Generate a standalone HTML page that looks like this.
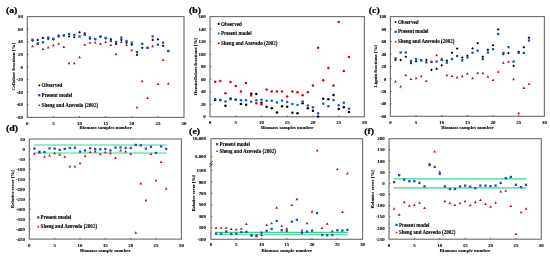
<!DOCTYPE html>
<html><head><meta charset="utf-8"><title>Figure</title>
<style>
html,body{margin:0;padding:0;background:#fff;}
body{width:550px;height:256px;overflow:hidden;}
svg{display:block;font-family:'Liberation Serif', 'Times New Roman', serif;filter:blur(0.25px);}
text{stroke:#000;stroke-width:0.9px;}
.pl{stroke-width:2.2px;}
</style></head><body>
<svg width="550" height="256" viewBox="0 0 550 256">
<rect width="550" height="256" fill="#fff"/>
<text class="pl" transform="translate(5.90 12.60) scale(0.116 0.1)" font-size="85.0" text-anchor="start" font-weight="bold" fill="#000">(a)</text>
<text class="pl" transform="translate(188.90 12.60) scale(0.116 0.1)" font-size="85.0" text-anchor="start" font-weight="bold" fill="#000">(b)</text>
<text class="pl" transform="translate(368.80 12.60) scale(0.116 0.1)" font-size="85.0" text-anchor="start" font-weight="bold" fill="#000">(c)</text>
<text class="pl" transform="translate(5.90 130.80) scale(0.116 0.1)" font-size="85.0" text-anchor="start" font-weight="bold" fill="#000">(d)</text>
<text class="pl" transform="translate(189.10 133.70) scale(0.116 0.1)" font-size="85.0" text-anchor="start" font-weight="bold" fill="#000">(e)</text>
<text class="pl" transform="translate(364.30 134.20) scale(0.116 0.1)" font-size="85.0" text-anchor="start" font-weight="bold" fill="#000">(f)</text>
<rect x="27.30" y="16.60" width="156.70" height="100.80" fill="none" stroke="#707070" stroke-width="1.15"/>
<rect x="210.00" y="16.60" width="154.40" height="100.20" fill="none" stroke="#707070" stroke-width="1.15"/>
<rect x="390.40" y="16.60" width="154.00" height="99.70" fill="none" stroke="#707070" stroke-width="1.15"/>
<rect x="29.30" y="139.00" width="152.10" height="100.10" fill="none" stroke="#707070" stroke-width="1.15"/>
<rect x="389.00" y="138.70" width="152.30" height="100.50" fill="none" stroke="#707070" stroke-width="1.15"/>
<rect x="211.00" y="138.70" width="151.60" height="100.60" fill="none" stroke="#707070" stroke-width="1.15"/>
<text transform="translate(27.30 124.92) scale(0.1)" font-size="49.0" text-anchor="middle" font-weight="bold" fill="#000">0</text>
<line x1="53.42" y1="117.40" x2="53.42" y2="116.10" stroke="#444" stroke-width="0.8"/>
<text transform="translate(53.42 124.92) scale(0.1)" font-size="49.0" text-anchor="middle" font-weight="bold" fill="#000">5</text>
<line x1="79.53" y1="117.40" x2="79.53" y2="116.10" stroke="#444" stroke-width="0.8"/>
<text transform="translate(79.53 124.92) scale(0.1)" font-size="49.0" text-anchor="middle" font-weight="bold" fill="#000">10</text>
<line x1="105.65" y1="117.40" x2="105.65" y2="116.10" stroke="#444" stroke-width="0.8"/>
<text transform="translate(105.65 124.92) scale(0.1)" font-size="49.0" text-anchor="middle" font-weight="bold" fill="#000">15</text>
<line x1="131.77" y1="117.40" x2="131.77" y2="116.10" stroke="#444" stroke-width="0.8"/>
<text transform="translate(131.77 124.92) scale(0.1)" font-size="49.0" text-anchor="middle" font-weight="bold" fill="#000">20</text>
<line x1="157.88" y1="117.40" x2="157.88" y2="116.10" stroke="#444" stroke-width="0.8"/>
<text transform="translate(157.88 124.92) scale(0.1)" font-size="49.0" text-anchor="middle" font-weight="bold" fill="#000">25</text>
<text transform="translate(184.00 124.92) scale(0.1)" font-size="49.0" text-anchor="middle" font-weight="bold" fill="#000">30</text>
<text transform="translate(105.65 129.06) scale(0.1)" font-size="48.5" text-anchor="middle" font-weight="bold" fill="#000">Biomass samples number</text>
<text transform="translate(210.00 124.32) scale(0.1)" font-size="49.0" text-anchor="middle" font-weight="bold" fill="#000">0</text>
<line x1="235.73" y1="116.80" x2="235.73" y2="115.50" stroke="#444" stroke-width="0.8"/>
<text transform="translate(235.73 124.32) scale(0.1)" font-size="49.0" text-anchor="middle" font-weight="bold" fill="#000">5</text>
<line x1="261.47" y1="116.80" x2="261.47" y2="115.50" stroke="#444" stroke-width="0.8"/>
<text transform="translate(261.47 124.32) scale(0.1)" font-size="49.0" text-anchor="middle" font-weight="bold" fill="#000">10</text>
<line x1="287.20" y1="116.80" x2="287.20" y2="115.50" stroke="#444" stroke-width="0.8"/>
<text transform="translate(287.20 124.32) scale(0.1)" font-size="49.0" text-anchor="middle" font-weight="bold" fill="#000">15</text>
<line x1="312.93" y1="116.80" x2="312.93" y2="115.50" stroke="#444" stroke-width="0.8"/>
<text transform="translate(312.93 124.32) scale(0.1)" font-size="49.0" text-anchor="middle" font-weight="bold" fill="#000">20</text>
<line x1="338.67" y1="116.80" x2="338.67" y2="115.50" stroke="#444" stroke-width="0.8"/>
<text transform="translate(338.67 124.32) scale(0.1)" font-size="49.0" text-anchor="middle" font-weight="bold" fill="#000">25</text>
<text transform="translate(364.40 124.32) scale(0.1)" font-size="49.0" text-anchor="middle" font-weight="bold" fill="#000">30</text>
<text transform="translate(287.20 128.75) scale(0.1)" font-size="48.5" text-anchor="middle" font-weight="bold" fill="#000">Biomass samples number</text>
<text transform="translate(390.40 124.12) scale(0.1)" font-size="49.0" text-anchor="middle" font-weight="bold" fill="#000">0</text>
<line x1="416.07" y1="116.30" x2="416.07" y2="115.00" stroke="#444" stroke-width="0.8"/>
<text transform="translate(416.07 124.12) scale(0.1)" font-size="49.0" text-anchor="middle" font-weight="bold" fill="#000">5</text>
<line x1="441.73" y1="116.30" x2="441.73" y2="115.00" stroke="#444" stroke-width="0.8"/>
<text transform="translate(441.73 124.12) scale(0.1)" font-size="49.0" text-anchor="middle" font-weight="bold" fill="#000">10</text>
<line x1="467.40" y1="116.30" x2="467.40" y2="115.00" stroke="#444" stroke-width="0.8"/>
<text transform="translate(467.40 124.12) scale(0.1)" font-size="49.0" text-anchor="middle" font-weight="bold" fill="#000">15</text>
<line x1="493.07" y1="116.30" x2="493.07" y2="115.00" stroke="#444" stroke-width="0.8"/>
<text transform="translate(493.07 124.12) scale(0.1)" font-size="49.0" text-anchor="middle" font-weight="bold" fill="#000">20</text>
<line x1="518.73" y1="116.30" x2="518.73" y2="115.00" stroke="#444" stroke-width="0.8"/>
<text transform="translate(518.73 124.12) scale(0.1)" font-size="49.0" text-anchor="middle" font-weight="bold" fill="#000">25</text>
<text transform="translate(544.40 124.12) scale(0.1)" font-size="49.0" text-anchor="middle" font-weight="bold" fill="#000">30</text>
<text transform="translate(467.40 128.75) scale(0.1)" font-size="48.5" text-anchor="middle" font-weight="bold" fill="#000">Biomass samples number</text>
<text transform="translate(29.30 246.72) scale(0.1)" font-size="49.0" text-anchor="middle" font-weight="bold" fill="#000">0</text>
<line x1="54.65" y1="239.10" x2="54.65" y2="237.80" stroke="#444" stroke-width="0.8"/>
<text transform="translate(54.65 246.72) scale(0.1)" font-size="49.0" text-anchor="middle" font-weight="bold" fill="#000">5</text>
<line x1="80.00" y1="239.10" x2="80.00" y2="237.80" stroke="#444" stroke-width="0.8"/>
<text transform="translate(80.00 246.72) scale(0.1)" font-size="49.0" text-anchor="middle" font-weight="bold" fill="#000">10</text>
<line x1="105.35" y1="239.10" x2="105.35" y2="237.80" stroke="#444" stroke-width="0.8"/>
<text transform="translate(105.35 246.72) scale(0.1)" font-size="49.0" text-anchor="middle" font-weight="bold" fill="#000">15</text>
<line x1="130.70" y1="239.10" x2="130.70" y2="237.80" stroke="#444" stroke-width="0.8"/>
<text transform="translate(130.70 246.72) scale(0.1)" font-size="49.0" text-anchor="middle" font-weight="bold" fill="#000">20</text>
<line x1="156.05" y1="239.10" x2="156.05" y2="237.80" stroke="#444" stroke-width="0.8"/>
<text transform="translate(156.05 246.72) scale(0.1)" font-size="49.0" text-anchor="middle" font-weight="bold" fill="#000">25</text>
<text transform="translate(181.40 246.72) scale(0.1)" font-size="49.0" text-anchor="middle" font-weight="bold" fill="#000">30</text>
<text transform="translate(105.35 251.86) scale(0.1)" font-size="48.5" text-anchor="middle" font-weight="bold" fill="#000">Biomass sample number</text>
<text transform="translate(211.00 246.22) scale(0.1)" font-size="49.0" text-anchor="middle" font-weight="bold" fill="#000">0</text>
<line x1="236.27" y1="239.30" x2="236.27" y2="238.00" stroke="#444" stroke-width="0.8"/>
<text transform="translate(236.27 246.22) scale(0.1)" font-size="49.0" text-anchor="middle" font-weight="bold" fill="#000">5</text>
<line x1="261.53" y1="239.30" x2="261.53" y2="238.00" stroke="#444" stroke-width="0.8"/>
<text transform="translate(261.53 246.22) scale(0.1)" font-size="49.0" text-anchor="middle" font-weight="bold" fill="#000">10</text>
<line x1="286.80" y1="239.30" x2="286.80" y2="238.00" stroke="#444" stroke-width="0.8"/>
<text transform="translate(286.80 246.22) scale(0.1)" font-size="49.0" text-anchor="middle" font-weight="bold" fill="#000">15</text>
<line x1="312.07" y1="239.30" x2="312.07" y2="238.00" stroke="#444" stroke-width="0.8"/>
<text transform="translate(312.07 246.22) scale(0.1)" font-size="49.0" text-anchor="middle" font-weight="bold" fill="#000">20</text>
<line x1="337.33" y1="239.30" x2="337.33" y2="238.00" stroke="#444" stroke-width="0.8"/>
<text transform="translate(337.33 246.22) scale(0.1)" font-size="49.0" text-anchor="middle" font-weight="bold" fill="#000">25</text>
<text transform="translate(362.60 246.22) scale(0.1)" font-size="49.0" text-anchor="middle" font-weight="bold" fill="#000">30</text>
<text transform="translate(286.80 251.86) scale(0.1)" font-size="48.5" text-anchor="middle" font-weight="bold" fill="#000">Biomass sample number</text>
<text transform="translate(389.00 246.62) scale(0.1)" font-size="49.0" text-anchor="middle" font-weight="bold" fill="#000">0</text>
<line x1="414.38" y1="239.20" x2="414.38" y2="237.90" stroke="#444" stroke-width="0.8"/>
<text transform="translate(414.38 246.62) scale(0.1)" font-size="49.0" text-anchor="middle" font-weight="bold" fill="#000">5</text>
<line x1="439.77" y1="239.20" x2="439.77" y2="237.90" stroke="#444" stroke-width="0.8"/>
<text transform="translate(439.77 246.62) scale(0.1)" font-size="49.0" text-anchor="middle" font-weight="bold" fill="#000">10</text>
<line x1="465.15" y1="239.20" x2="465.15" y2="237.90" stroke="#444" stroke-width="0.8"/>
<text transform="translate(465.15 246.62) scale(0.1)" font-size="49.0" text-anchor="middle" font-weight="bold" fill="#000">15</text>
<line x1="490.53" y1="239.20" x2="490.53" y2="237.90" stroke="#444" stroke-width="0.8"/>
<text transform="translate(490.53 246.62) scale(0.1)" font-size="49.0" text-anchor="middle" font-weight="bold" fill="#000">20</text>
<line x1="515.92" y1="239.20" x2="515.92" y2="237.90" stroke="#444" stroke-width="0.8"/>
<text transform="translate(515.92 246.62) scale(0.1)" font-size="49.0" text-anchor="middle" font-weight="bold" fill="#000">25</text>
<text transform="translate(541.30 246.62) scale(0.1)" font-size="49.0" text-anchor="middle" font-weight="bold" fill="#000">30</text>
<text transform="translate(465.15 251.76) scale(0.1)" font-size="48.5" text-anchor="middle" font-weight="bold" fill="#000">Biomass sample number</text>
<text transform="translate(23.00 18.22) scale(0.1)" font-size="49.0" text-anchor="end" font-weight="bold" fill="#000">80</text>
<line x1="27.30" y1="29.20" x2="28.60" y2="29.20" stroke="#444" stroke-width="0.8"/>
<text transform="translate(23.00 30.82) scale(0.1)" font-size="49.0" text-anchor="end" font-weight="bold" fill="#000">60</text>
<line x1="27.30" y1="41.80" x2="28.60" y2="41.80" stroke="#444" stroke-width="0.8"/>
<text transform="translate(23.00 43.42) scale(0.1)" font-size="49.0" text-anchor="end" font-weight="bold" fill="#000">40</text>
<line x1="27.30" y1="54.40" x2="28.60" y2="54.40" stroke="#444" stroke-width="0.8"/>
<text transform="translate(23.00 56.02) scale(0.1)" font-size="49.0" text-anchor="end" font-weight="bold" fill="#000">20</text>
<line x1="27.30" y1="67.00" x2="28.60" y2="67.00" stroke="#444" stroke-width="0.8"/>
<text transform="translate(23.00 68.62) scale(0.1)" font-size="49.0" text-anchor="end" font-weight="bold" fill="#000">0</text>
<line x1="27.30" y1="79.60" x2="28.60" y2="79.60" stroke="#444" stroke-width="0.8"/>
<text transform="translate(23.00 81.22) scale(0.1)" font-size="49.0" text-anchor="end" font-weight="bold" fill="#000">-20</text>
<line x1="27.30" y1="92.20" x2="28.60" y2="92.20" stroke="#444" stroke-width="0.8"/>
<text transform="translate(23.00 93.82) scale(0.1)" font-size="49.0" text-anchor="end" font-weight="bold" fill="#000">-40</text>
<line x1="27.30" y1="104.80" x2="28.60" y2="104.80" stroke="#444" stroke-width="0.8"/>
<text transform="translate(23.00 106.42) scale(0.1)" font-size="49.0" text-anchor="end" font-weight="bold" fill="#000">-60</text>
<text transform="translate(23.00 119.02) scale(0.1)" font-size="49.0" text-anchor="end" font-weight="bold" fill="#000">-80</text>
<text transform="translate(205.80 18.22) scale(0.1)" font-size="49.0" text-anchor="end" font-weight="bold" fill="#000">160</text>
<line x1="210.00" y1="29.12" x2="211.30" y2="29.12" stroke="#444" stroke-width="0.8"/>
<text transform="translate(205.80 30.74) scale(0.1)" font-size="49.0" text-anchor="end" font-weight="bold" fill="#000">140</text>
<line x1="210.00" y1="41.65" x2="211.30" y2="41.65" stroke="#444" stroke-width="0.8"/>
<text transform="translate(205.80 43.27) scale(0.1)" font-size="49.0" text-anchor="end" font-weight="bold" fill="#000">120</text>
<line x1="210.00" y1="54.17" x2="211.30" y2="54.17" stroke="#444" stroke-width="0.8"/>
<text transform="translate(205.80 55.79) scale(0.1)" font-size="49.0" text-anchor="end" font-weight="bold" fill="#000">100</text>
<line x1="210.00" y1="66.70" x2="211.30" y2="66.70" stroke="#444" stroke-width="0.8"/>
<text transform="translate(205.80 68.32) scale(0.1)" font-size="49.0" text-anchor="end" font-weight="bold" fill="#000">80</text>
<line x1="210.00" y1="79.22" x2="211.30" y2="79.22" stroke="#444" stroke-width="0.8"/>
<text transform="translate(205.80 80.84) scale(0.1)" font-size="49.0" text-anchor="end" font-weight="bold" fill="#000">60</text>
<line x1="210.00" y1="91.75" x2="211.30" y2="91.75" stroke="#444" stroke-width="0.8"/>
<text transform="translate(205.80 93.37) scale(0.1)" font-size="49.0" text-anchor="end" font-weight="bold" fill="#000">40</text>
<line x1="210.00" y1="104.27" x2="211.30" y2="104.27" stroke="#444" stroke-width="0.8"/>
<text transform="translate(205.80 105.89) scale(0.1)" font-size="49.0" text-anchor="end" font-weight="bold" fill="#000">20</text>
<text transform="translate(205.80 118.42) scale(0.1)" font-size="49.0" text-anchor="end" font-weight="bold" fill="#000">0</text>
<text transform="translate(386.30 18.22) scale(0.1)" font-size="49.0" text-anchor="end" font-weight="bold" fill="#000">100</text>
<line x1="390.40" y1="29.06" x2="391.70" y2="29.06" stroke="#444" stroke-width="0.8"/>
<text transform="translate(386.30 30.68) scale(0.1)" font-size="49.0" text-anchor="end" font-weight="bold" fill="#000">80</text>
<line x1="390.40" y1="41.52" x2="391.70" y2="41.52" stroke="#444" stroke-width="0.8"/>
<text transform="translate(386.30 43.14) scale(0.1)" font-size="49.0" text-anchor="end" font-weight="bold" fill="#000">60</text>
<line x1="390.40" y1="53.99" x2="391.70" y2="53.99" stroke="#444" stroke-width="0.8"/>
<text transform="translate(386.30 55.60) scale(0.1)" font-size="49.0" text-anchor="end" font-weight="bold" fill="#000">40</text>
<line x1="390.40" y1="66.45" x2="391.70" y2="66.45" stroke="#444" stroke-width="0.8"/>
<text transform="translate(386.30 68.07) scale(0.1)" font-size="49.0" text-anchor="end" font-weight="bold" fill="#000">20</text>
<line x1="390.40" y1="78.91" x2="391.70" y2="78.91" stroke="#444" stroke-width="0.8"/>
<text transform="translate(386.30 80.53) scale(0.1)" font-size="49.0" text-anchor="end" font-weight="bold" fill="#000">0</text>
<line x1="390.40" y1="91.38" x2="391.70" y2="91.38" stroke="#444" stroke-width="0.8"/>
<text transform="translate(386.30 92.99) scale(0.1)" font-size="49.0" text-anchor="end" font-weight="bold" fill="#000">-20</text>
<line x1="390.40" y1="103.84" x2="391.70" y2="103.84" stroke="#444" stroke-width="0.8"/>
<text transform="translate(386.30 105.45) scale(0.1)" font-size="49.0" text-anchor="end" font-weight="bold" fill="#000">-40</text>
<text transform="translate(386.30 117.92) scale(0.1)" font-size="49.0" text-anchor="end" font-weight="bold" fill="#000">-60</text>
<text transform="translate(24.90 140.62) scale(0.1)" font-size="49.0" text-anchor="end" font-weight="bold" fill="#000">50</text>
<line x1="29.30" y1="149.01" x2="30.60" y2="149.01" stroke="#444" stroke-width="0.8"/>
<text transform="translate(24.90 150.63) scale(0.1)" font-size="49.0" text-anchor="end" font-weight="bold" fill="#000">0</text>
<line x1="29.30" y1="159.02" x2="30.60" y2="159.02" stroke="#444" stroke-width="0.8"/>
<text transform="translate(24.90 160.64) scale(0.1)" font-size="49.0" text-anchor="end" font-weight="bold" fill="#000">-50</text>
<line x1="29.30" y1="169.03" x2="30.60" y2="169.03" stroke="#444" stroke-width="0.8"/>
<text transform="translate(24.90 170.65) scale(0.1)" font-size="49.0" text-anchor="end" font-weight="bold" fill="#000">-100</text>
<line x1="29.30" y1="179.04" x2="30.60" y2="179.04" stroke="#444" stroke-width="0.8"/>
<text transform="translate(24.90 180.66) scale(0.1)" font-size="49.0" text-anchor="end" font-weight="bold" fill="#000">-150</text>
<line x1="29.30" y1="189.05" x2="30.60" y2="189.05" stroke="#444" stroke-width="0.8"/>
<text transform="translate(24.90 190.67) scale(0.1)" font-size="49.0" text-anchor="end" font-weight="bold" fill="#000">-200</text>
<line x1="29.30" y1="199.06" x2="30.60" y2="199.06" stroke="#444" stroke-width="0.8"/>
<text transform="translate(24.90 200.68) scale(0.1)" font-size="49.0" text-anchor="end" font-weight="bold" fill="#000">-250</text>
<line x1="29.30" y1="209.07" x2="30.60" y2="209.07" stroke="#444" stroke-width="0.8"/>
<text transform="translate(24.90 210.69) scale(0.1)" font-size="49.0" text-anchor="end" font-weight="bold" fill="#000">-300</text>
<line x1="29.30" y1="219.08" x2="30.60" y2="219.08" stroke="#444" stroke-width="0.8"/>
<text transform="translate(24.90 220.70) scale(0.1)" font-size="49.0" text-anchor="end" font-weight="bold" fill="#000">-350</text>
<line x1="29.30" y1="229.09" x2="30.60" y2="229.09" stroke="#444" stroke-width="0.8"/>
<text transform="translate(24.90 230.71) scale(0.1)" font-size="49.0" text-anchor="end" font-weight="bold" fill="#000">-400</text>
<text transform="translate(24.90 240.72) scale(0.1)" font-size="49.0" text-anchor="end" font-weight="bold" fill="#000">-450</text>
<text transform="translate(384.70 140.32) scale(0.1)" font-size="49.0" text-anchor="end" font-weight="bold" fill="#000">200</text>
<line x1="389.00" y1="149.87" x2="390.30" y2="149.87" stroke="#444" stroke-width="0.8"/>
<text transform="translate(384.70 151.48) scale(0.1)" font-size="49.0" text-anchor="end" font-weight="bold" fill="#000">150</text>
<line x1="389.00" y1="161.03" x2="390.30" y2="161.03" stroke="#444" stroke-width="0.8"/>
<text transform="translate(384.70 162.65) scale(0.1)" font-size="49.0" text-anchor="end" font-weight="bold" fill="#000">100</text>
<line x1="389.00" y1="172.20" x2="390.30" y2="172.20" stroke="#444" stroke-width="0.8"/>
<text transform="translate(384.70 173.82) scale(0.1)" font-size="49.0" text-anchor="end" font-weight="bold" fill="#000">50</text>
<line x1="389.00" y1="183.37" x2="390.30" y2="183.37" stroke="#444" stroke-width="0.8"/>
<text transform="translate(384.70 184.98) scale(0.1)" font-size="49.0" text-anchor="end" font-weight="bold" fill="#000">0</text>
<line x1="389.00" y1="194.53" x2="390.30" y2="194.53" stroke="#444" stroke-width="0.8"/>
<text transform="translate(384.70 196.15) scale(0.1)" font-size="49.0" text-anchor="end" font-weight="bold" fill="#000">-50</text>
<line x1="389.00" y1="205.70" x2="390.30" y2="205.70" stroke="#444" stroke-width="0.8"/>
<text transform="translate(384.70 207.32) scale(0.1)" font-size="49.0" text-anchor="end" font-weight="bold" fill="#000">-100</text>
<line x1="389.00" y1="216.87" x2="390.30" y2="216.87" stroke="#444" stroke-width="0.8"/>
<text transform="translate(384.70 218.48) scale(0.1)" font-size="49.0" text-anchor="end" font-weight="bold" fill="#000">-150</text>
<line x1="389.00" y1="228.03" x2="390.30" y2="228.03" stroke="#444" stroke-width="0.8"/>
<text transform="translate(384.70 229.65) scale(0.1)" font-size="49.0" text-anchor="end" font-weight="bold" fill="#000">-200</text>
<text transform="translate(384.70 240.82) scale(0.1)" font-size="49.0" text-anchor="end" font-weight="bold" fill="#000">-250</text>
<text transform="translate(206.00 140.37) scale(0.1)" font-size="49.0" text-anchor="end" font-weight="bold" fill="#000">10,000</text>
<line x1="211.00" y1="156.60" x2="212.30" y2="156.60" stroke="#444" stroke-width="0.8"/>
<text transform="translate(206.00 158.22) scale(0.1)" font-size="49.0" text-anchor="end" font-weight="bold" fill="#000">8,000</text>
<line x1="211.00" y1="170.42" x2="212.30" y2="170.42" stroke="#444" stroke-width="0.8"/>
<text transform="translate(206.00 172.04) scale(0.1)" font-size="49.0" text-anchor="end" font-weight="bold" fill="#000">1100</text>
<line x1="211.00" y1="181.90" x2="212.30" y2="181.90" stroke="#444" stroke-width="0.8"/>
<text transform="translate(206.00 183.52) scale(0.1)" font-size="49.0" text-anchor="end" font-weight="bold" fill="#000">900</text>
<line x1="211.00" y1="193.38" x2="212.30" y2="193.38" stroke="#444" stroke-width="0.8"/>
<text transform="translate(206.00 195.00) scale(0.1)" font-size="49.0" text-anchor="end" font-weight="bold" fill="#000">700</text>
<line x1="211.00" y1="204.86" x2="212.30" y2="204.86" stroke="#444" stroke-width="0.8"/>
<text transform="translate(206.00 206.48) scale(0.1)" font-size="49.0" text-anchor="end" font-weight="bold" fill="#000">500</text>
<line x1="211.00" y1="216.34" x2="212.30" y2="216.34" stroke="#444" stroke-width="0.8"/>
<text transform="translate(206.00 217.96) scale(0.1)" font-size="49.0" text-anchor="end" font-weight="bold" fill="#000">300</text>
<line x1="211.00" y1="227.82" x2="212.30" y2="227.82" stroke="#444" stroke-width="0.8"/>
<text transform="translate(206.00 229.44) scale(0.1)" font-size="49.0" text-anchor="end" font-weight="bold" fill="#000">100</text>
<text transform="translate(206.00 240.92) scale(0.1)" font-size="49.0" text-anchor="end" font-weight="bold" fill="#000">-100</text>
<path d="M212.7 161.1L209.3 164.3M212.7 163.7L209.3 166.9" stroke="#222" stroke-width="0.95" fill="none"/>
<text transform="translate(14.90 66.80) rotate(-90) scale(0.1)" font-size="48.5" text-anchor="middle" font-weight="bold" fill="#000">Cellulose fractions [%]</text>
<text transform="translate(196.70 66.70) rotate(-90) scale(0.1)" font-size="48.0" text-anchor="middle" font-weight="bold" fill="#000">Hemicellulose fractions [%]</text>
<text transform="translate(377.30 66.30) rotate(-90) scale(0.1)" font-size="48.5" text-anchor="middle" font-weight="bold" fill="#000">Lignin fractions [%]</text>
<text transform="translate(14.20 189.20) rotate(-90) scale(0.1)" font-size="48.0" text-anchor="middle" font-weight="bold" fill="#000">Relative error [%]</text>
<text transform="translate(195.40 193.30) rotate(-90) scale(0.1)" font-size="45.5" text-anchor="middle" font-weight="bold" fill="#000">Relative error [%]</text>
<text transform="translate(374.00 189.35) rotate(-90) scale(0.1)" font-size="48.7" text-anchor="middle" font-weight="bold" fill="#000">Relative error [%]</text>
<line x1="33.77" y1="145.01" x2="166.79" y2="145.01" stroke="#33d98c" stroke-width="1.15"/>
<line x1="33.77" y1="153.01" x2="166.79" y2="153.01" stroke="#33d98c" stroke-width="1.15"/>
<line x1="215.45" y1="232.41" x2="348.04" y2="232.41" stroke="#33d98c" stroke-width="1.15"/>
<line x1="215.45" y1="234.71" x2="348.04" y2="234.71" stroke="#33d98c" stroke-width="1.15"/>
<line x1="393.48" y1="178.90" x2="526.67" y2="178.90" stroke="#33d98c" stroke-width="1.15"/>
<line x1="393.48" y1="187.83" x2="526.67" y2="187.83" stroke="#33d98c" stroke-width="1.15"/>
<path d="M32.52 39.19L33.87 40.54L32.52 41.89L31.17 40.54Z" fill="#000000"/>
<path d="M37.75 38.56L39.10 39.91L37.75 41.26L36.40 39.91Z" fill="#000000"/>
<path d="M42.97 36.54L44.32 37.89L42.97 39.24L41.62 37.89Z" fill="#000000"/>
<path d="M48.19 37.49L49.54 38.84L48.19 40.19L46.84 38.84Z" fill="#000000"/>
<path d="M53.42 38.12L54.77 39.47L53.42 40.82L52.07 39.47Z" fill="#000000"/>
<path d="M58.64 34.21L59.99 35.56L58.64 36.91L57.29 35.56Z" fill="#000000"/>
<path d="M63.86 34.15L65.21 35.50L63.86 36.85L62.51 35.50Z" fill="#000000"/>
<path d="M69.09 35.16L70.44 36.51L69.09 37.86L67.74 36.51Z" fill="#000000"/>
<path d="M74.31 35.91L75.66 37.26L74.31 38.61L72.96 37.26Z" fill="#000000"/>
<path d="M79.53 30.94L80.88 32.29L79.53 33.64L78.18 32.29Z" fill="#000000"/>
<path d="M84.76 31.88L86.11 33.23L84.76 34.58L83.41 33.23Z" fill="#000000"/>
<path d="M89.98 37.36L91.33 38.71L89.98 40.06L88.63 38.71Z" fill="#000000"/>
<path d="M95.20 37.80L96.55 39.15L95.20 40.50L93.85 39.15Z" fill="#000000"/>
<path d="M100.43 35.41L101.78 36.76L100.43 38.11L99.08 36.76Z" fill="#000000"/>
<path d="M105.65 36.99L107.00 38.34L105.65 39.69L104.30 38.34Z" fill="#000000"/>
<path d="M110.87 37.80L112.22 39.15L110.87 40.50L109.52 39.15Z" fill="#000000"/>
<path d="M116.10 42.53L117.45 43.88L116.10 45.23L114.75 43.88Z" fill="#000000"/>
<path d="M121.32 38.56L122.67 39.91L121.32 41.26L119.97 39.91Z" fill="#000000"/>
<path d="M126.54 41.40L127.89 42.75L126.54 44.10L125.19 42.75Z" fill="#000000"/>
<path d="M131.77 43.29L133.12 44.64L131.77 45.99L130.42 44.64Z" fill="#000000"/>
<path d="M136.99 53.55L138.34 54.90L136.99 56.25L135.64 54.90Z" fill="#000000"/>
<path d="M142.21 46.44L143.56 47.79L142.21 49.14L140.86 47.79Z" fill="#000000"/>
<path d="M147.44 46.44L148.79 47.79L147.44 49.14L146.09 47.79Z" fill="#000000"/>
<path d="M152.66 38.62L154.01 39.97L152.66 41.32L151.31 39.97Z" fill="#000000"/>
<path d="M157.88 37.93L159.23 39.28L157.88 40.63L156.53 39.28Z" fill="#000000"/>
<path d="M163.11 44.48L164.46 45.83L163.11 47.18L161.76 45.83Z" fill="#000000"/>
<path d="M168.33 49.65L169.68 51.00L168.33 52.35L166.98 51.00Z" fill="#000000"/>
<rect x="31.37" y="38.51" width="2.30" height="2.30" fill="#1358b0"/>
<rect x="36.60" y="42.23" width="2.30" height="2.30" fill="#1358b0"/>
<rect x="41.82" y="41.15" width="2.30" height="2.30" fill="#1358b0"/>
<rect x="47.04" y="36.43" width="2.30" height="2.30" fill="#1358b0"/>
<rect x="52.27" y="37.56" width="2.30" height="2.30" fill="#1358b0"/>
<rect x="57.49" y="35.36" width="2.30" height="2.30" fill="#1358b0"/>
<rect x="62.71" y="34.22" width="2.30" height="2.30" fill="#1358b0"/>
<rect x="67.94" y="32.96" width="2.30" height="2.30" fill="#1358b0"/>
<rect x="73.16" y="33.78" width="2.30" height="2.30" fill="#1358b0"/>
<rect x="78.38" y="35.36" width="2.30" height="2.30" fill="#1358b0"/>
<rect x="83.61" y="33.78" width="2.30" height="2.30" fill="#1358b0"/>
<rect x="88.83" y="36.43" width="2.30" height="2.30" fill="#1358b0"/>
<rect x="94.05" y="38.00" width="2.30" height="2.30" fill="#1358b0"/>
<rect x="99.28" y="35.36" width="2.30" height="2.30" fill="#1358b0"/>
<rect x="104.50" y="36.74" width="2.30" height="2.30" fill="#1358b0"/>
<rect x="109.72" y="39.89" width="2.30" height="2.30" fill="#1358b0"/>
<rect x="114.95" y="40.84" width="2.30" height="2.30" fill="#1358b0"/>
<rect x="120.17" y="36.43" width="2.30" height="2.30" fill="#1358b0"/>
<rect x="125.39" y="39.89" width="2.30" height="2.30" fill="#1358b0"/>
<rect x="130.62" y="41.60" width="2.30" height="2.30" fill="#1358b0"/>
<rect x="135.84" y="50.98" width="2.30" height="2.30" fill="#1358b0"/>
<rect x="141.06" y="42.73" width="2.30" height="2.30" fill="#1358b0"/>
<rect x="146.29" y="46.64" width="2.30" height="2.30" fill="#1358b0"/>
<rect x="151.51" y="35.23" width="2.30" height="2.30" fill="#1358b0"/>
<rect x="156.73" y="43.55" width="2.30" height="2.30" fill="#1358b0"/>
<rect x="161.96" y="41.53" width="2.30" height="2.30" fill="#1358b0"/>
<rect x="167.18" y="49.85" width="2.30" height="2.30" fill="#1358b0"/>
<path d="M32.52 44.81L33.92 47.33L31.12 47.33Z" fill="#b8102a"/>
<path d="M37.75 42.48L39.15 45.00L36.35 45.00Z" fill="#b8102a"/>
<path d="M42.97 47.46L44.37 49.98L41.57 49.98Z" fill="#b8102a"/>
<path d="M48.19 46.07L49.59 48.59L46.79 48.59Z" fill="#b8102a"/>
<path d="M53.42 43.74L54.82 46.26L52.02 46.26Z" fill="#b8102a"/>
<path d="M58.64 42.16L60.04 44.68L57.24 44.68Z" fill="#b8102a"/>
<path d="M63.86 45.57L65.26 48.09L62.46 48.09Z" fill="#b8102a"/>
<path d="M69.09 61.82L70.49 64.34L67.69 64.34Z" fill="#b8102a"/>
<path d="M74.31 61.82L75.71 64.34L72.91 64.34Z" fill="#b8102a"/>
<path d="M79.53 55.84L80.93 58.36L78.13 58.36Z" fill="#b8102a"/>
<path d="M84.76 43.24L86.16 45.76L83.36 45.76Z" fill="#b8102a"/>
<path d="M89.98 41.35L91.38 43.87L88.58 43.87Z" fill="#b8102a"/>
<path d="M95.20 41.03L96.60 43.55L93.80 43.55Z" fill="#b8102a"/>
<path d="M100.43 42.16L101.83 44.68L99.03 44.68Z" fill="#b8102a"/>
<path d="M105.65 40.59L107.05 43.11L104.25 43.11Z" fill="#b8102a"/>
<path d="M110.87 43.55L112.27 46.07L109.47 46.07Z" fill="#b8102a"/>
<path d="M116.10 52.75L117.50 55.27L114.70 55.27Z" fill="#b8102a"/>
<path d="M121.32 40.59L122.72 43.11L119.92 43.11Z" fill="#b8102a"/>
<path d="M126.54 43.55L127.94 46.07L125.14 46.07Z" fill="#b8102a"/>
<path d="M131.77 48.78L133.17 51.30L130.37 51.30Z" fill="#b8102a"/>
<path d="M136.99 105.92L138.39 108.44L135.59 108.44Z" fill="#b8102a"/>
<path d="M142.21 79.84L143.61 82.36L140.81 82.36Z" fill="#b8102a"/>
<path d="M147.44 96.47L148.84 98.99L146.04 98.99Z" fill="#b8102a"/>
<path d="M152.66 44.81L154.06 47.33L151.26 47.33Z" fill="#b8102a"/>
<path d="M157.88 82.55L159.28 85.07L156.48 85.07Z" fill="#b8102a"/>
<path d="M163.11 58.54L164.51 61.06L161.71 61.06Z" fill="#b8102a"/>
<path d="M168.33 82.23L169.73 84.75L166.93 84.75Z" fill="#b8102a"/>
<circle cx="215.15" cy="100.02" r="1.25" fill="#000000"/>
<circle cx="220.29" cy="99.89" r="1.25" fill="#000000"/>
<circle cx="225.44" cy="105.65" r="1.25" fill="#000000"/>
<circle cx="230.59" cy="98.45" r="1.25" fill="#000000"/>
<circle cx="235.73" cy="99.70" r="1.25" fill="#000000"/>
<circle cx="240.88" cy="103.96" r="1.25" fill="#000000"/>
<circle cx="246.03" cy="104.71" r="1.25" fill="#000000"/>
<circle cx="251.17" cy="93.75" r="1.25" fill="#000000"/>
<circle cx="256.32" cy="93.94" r="1.25" fill="#000000"/>
<circle cx="261.47" cy="102.83" r="1.25" fill="#000000"/>
<circle cx="266.61" cy="106.78" r="1.25" fill="#000000"/>
<circle cx="271.76" cy="108.35" r="1.25" fill="#000000"/>
<circle cx="276.91" cy="112.54" r="1.25" fill="#000000"/>
<circle cx="282.05" cy="106.28" r="1.25" fill="#000000"/>
<circle cx="287.20" cy="106.78" r="1.25" fill="#000000"/>
<circle cx="292.35" cy="112.73" r="1.25" fill="#000000"/>
<circle cx="297.49" cy="113.36" r="1.25" fill="#000000"/>
<circle cx="302.64" cy="103.15" r="1.25" fill="#000000"/>
<circle cx="307.79" cy="108.35" r="1.25" fill="#000000"/>
<circle cx="312.93" cy="110.66" r="1.25" fill="#000000"/>
<circle cx="318.08" cy="116.49" r="1.25" fill="#000000"/>
<circle cx="323.23" cy="98.64" r="1.25" fill="#000000"/>
<circle cx="328.37" cy="99.26" r="1.25" fill="#000000"/>
<circle cx="333.52" cy="95.01" r="1.25" fill="#000000"/>
<circle cx="338.67" cy="109.10" r="1.25" fill="#000000"/>
<circle cx="343.81" cy="107.22" r="1.25" fill="#000000"/>
<circle cx="348.96" cy="111.92" r="1.25" fill="#000000"/>
<circle cx="215.15" cy="98.95" r="1.25" fill="#1358b0"/>
<circle cx="220.29" cy="100.02" r="1.25" fill="#1358b0"/>
<circle cx="225.44" cy="101.58" r="1.25" fill="#1358b0"/>
<circle cx="230.59" cy="99.26" r="1.25" fill="#1358b0"/>
<circle cx="235.73" cy="99.70" r="1.25" fill="#1358b0"/>
<circle cx="240.88" cy="100.20" r="1.25" fill="#1358b0"/>
<circle cx="246.03" cy="100.20" r="1.25" fill="#1358b0"/>
<circle cx="251.17" cy="101.77" r="1.25" fill="#1358b0"/>
<circle cx="256.32" cy="100.20" r="1.25" fill="#1358b0"/>
<circle cx="261.47" cy="99.70" r="1.25" fill="#1358b0"/>
<circle cx="266.61" cy="100.83" r="1.25" fill="#1358b0"/>
<circle cx="271.76" cy="100.83" r="1.25" fill="#1358b0"/>
<circle cx="276.91" cy="102.40" r="1.25" fill="#1358b0"/>
<circle cx="282.05" cy="100.52" r="1.25" fill="#1358b0"/>
<circle cx="287.20" cy="102.08" r="1.25" fill="#1358b0"/>
<circle cx="292.35" cy="104.09" r="1.25" fill="#1358b0"/>
<circle cx="297.49" cy="104.90" r="1.25" fill="#1358b0"/>
<circle cx="302.64" cy="101.58" r="1.25" fill="#1358b0"/>
<circle cx="307.79" cy="105.53" r="1.25" fill="#1358b0"/>
<circle cx="312.93" cy="107.22" r="1.25" fill="#1358b0"/>
<circle cx="318.08" cy="113.36" r="1.25" fill="#1358b0"/>
<circle cx="323.23" cy="103.65" r="1.25" fill="#1358b0"/>
<circle cx="328.37" cy="106.28" r="1.25" fill="#1358b0"/>
<circle cx="333.52" cy="100.02" r="1.25" fill="#1358b0"/>
<circle cx="338.67" cy="105.21" r="1.25" fill="#1358b0"/>
<circle cx="343.81" cy="102.83" r="1.25" fill="#1358b0"/>
<circle cx="348.96" cy="108.66" r="1.25" fill="#1358b0"/>
<circle cx="215.15" cy="81.73" r="1.25" fill="#d8000f"/>
<circle cx="220.29" cy="80.92" r="1.25" fill="#d8000f"/>
<circle cx="225.44" cy="93.13" r="1.25" fill="#d8000f"/>
<circle cx="230.59" cy="82.04" r="1.25" fill="#d8000f"/>
<circle cx="235.73" cy="85.93" r="1.25" fill="#d8000f"/>
<circle cx="240.88" cy="91.56" r="1.25" fill="#d8000f"/>
<circle cx="246.03" cy="82.98" r="1.25" fill="#d8000f"/>
<circle cx="251.17" cy="95.51" r="1.25" fill="#d8000f"/>
<circle cx="256.32" cy="103.15" r="1.25" fill="#d8000f"/>
<circle cx="261.47" cy="104.40" r="1.25" fill="#d8000f"/>
<circle cx="266.61" cy="89.56" r="1.25" fill="#d8000f"/>
<circle cx="271.76" cy="91.56" r="1.25" fill="#d8000f"/>
<circle cx="276.91" cy="91.56" r="1.25" fill="#d8000f"/>
<circle cx="282.05" cy="91.56" r="1.25" fill="#d8000f"/>
<circle cx="287.20" cy="96.57" r="1.25" fill="#d8000f"/>
<circle cx="292.35" cy="91.44" r="1.25" fill="#d8000f"/>
<circle cx="297.49" cy="92.19" r="1.25" fill="#d8000f"/>
<circle cx="302.64" cy="95.32" r="1.25" fill="#d8000f"/>
<circle cx="307.79" cy="92.19" r="1.25" fill="#d8000f"/>
<circle cx="312.93" cy="85.61" r="1.25" fill="#d8000f"/>
<circle cx="318.08" cy="47.72" r="1.25" fill="#d8000f"/>
<circle cx="323.23" cy="80.29" r="1.25" fill="#d8000f"/>
<circle cx="328.37" cy="67.95" r="1.25" fill="#d8000f"/>
<circle cx="333.52" cy="85.61" r="1.25" fill="#d8000f"/>
<circle cx="338.67" cy="21.92" r="1.25" fill="#d8000f"/>
<circle cx="343.81" cy="70.90" r="1.25" fill="#d8000f"/>
<circle cx="348.96" cy="56.93" r="1.25" fill="#d8000f"/>
<path d="M395.53 58.62L396.88 59.97L395.53 61.32L394.18 59.97Z" fill="#000000"/>
<path d="M400.67 58.62L402.02 59.97L400.67 61.32L399.32 59.97Z" fill="#000000"/>
<path d="M405.80 55.38L407.15 56.73L405.80 58.08L404.45 56.73Z" fill="#000000"/>
<path d="M410.93 61.74L412.28 63.09L410.93 64.44L409.58 63.09Z" fill="#000000"/>
<path d="M416.07 59.99L417.42 61.34L416.07 62.69L414.72 61.34Z" fill="#000000"/>
<path d="M421.20 58.93L422.55 60.28L421.20 61.63L419.85 60.28Z" fill="#000000"/>
<path d="M426.33 58.62L427.68 59.97L426.33 61.32L424.98 59.97Z" fill="#000000"/>
<path d="M431.47 68.59L432.82 69.94L431.47 71.29L430.12 69.94Z" fill="#000000"/>
<path d="M436.60 67.53L437.95 68.88L436.60 70.23L435.25 68.88Z" fill="#000000"/>
<path d="M441.73 63.92L443.08 65.27L441.73 66.62L440.38 65.27Z" fill="#000000"/>
<path d="M446.87 59.24L448.22 60.59L446.87 61.94L445.52 60.59Z" fill="#000000"/>
<path d="M452.00 51.45L453.35 52.80L452.00 54.15L450.65 52.80Z" fill="#000000"/>
<path d="M457.13 47.22L458.48 48.57L457.13 49.92L455.78 48.57Z" fill="#000000"/>
<path d="M462.27 56.13L463.62 57.48L462.27 58.83L460.92 57.48Z" fill="#000000"/>
<path d="M467.40 54.32L468.75 55.67L467.40 57.02L466.05 55.67Z" fill="#000000"/>
<path d="M472.53 47.03L473.88 48.38L472.53 49.73L471.18 48.38Z" fill="#000000"/>
<path d="M477.67 41.86L479.02 43.21L477.67 44.56L476.32 43.21Z" fill="#000000"/>
<path d="M482.80 55.44L484.15 56.79L482.80 58.14L481.45 56.79Z" fill="#000000"/>
<path d="M487.93 48.52L489.28 49.87L487.93 51.22L486.58 49.87Z" fill="#000000"/>
<path d="M493.07 43.91L494.42 45.26L493.07 46.61L491.72 45.26Z" fill="#000000"/>
<path d="M498.20 28.02L499.55 29.37L498.20 30.72L496.85 29.37Z" fill="#000000"/>
<path d="M503.33 52.76L504.68 54.11L503.33 55.46L501.98 54.11Z" fill="#000000"/>
<path d="M508.47 51.70L509.82 53.05L508.47 54.40L507.12 53.05Z" fill="#000000"/>
<path d="M513.60 64.48L514.95 65.83L513.60 67.18L512.25 65.83Z" fill="#000000"/>
<path d="M518.73 50.46L520.08 51.81L518.73 53.16L517.38 51.81Z" fill="#000000"/>
<path d="M523.87 45.78L525.22 47.13L523.87 48.48L522.52 47.13Z" fill="#000000"/>
<path d="M529.00 36.44L530.35 37.79L529.00 39.14L527.65 37.79Z" fill="#000000"/>
<rect x="394.38" y="57.26" width="2.30" height="2.30" fill="#1358b0"/>
<rect x="399.52" y="51.34" width="2.30" height="2.30" fill="#1358b0"/>
<rect x="404.65" y="51.34" width="2.30" height="2.30" fill="#1358b0"/>
<rect x="409.78" y="59.94" width="2.30" height="2.30" fill="#1358b0"/>
<rect x="414.92" y="57.88" width="2.30" height="2.30" fill="#1358b0"/>
<rect x="420.05" y="59.13" width="2.30" height="2.30" fill="#1358b0"/>
<rect x="425.18" y="61.19" width="2.30" height="2.30" fill="#1358b0"/>
<rect x="430.32" y="60.69" width="2.30" height="2.30" fill="#1358b0"/>
<rect x="435.45" y="60.38" width="2.30" height="2.30" fill="#1358b0"/>
<rect x="440.58" y="58.82" width="2.30" height="2.30" fill="#1358b0"/>
<rect x="445.72" y="61.50" width="2.30" height="2.30" fill="#1358b0"/>
<rect x="450.85" y="57.88" width="2.30" height="2.30" fill="#1358b0"/>
<rect x="455.98" y="54.96" width="2.30" height="2.30" fill="#1358b0"/>
<rect x="461.12" y="59.13" width="2.30" height="2.30" fill="#1358b0"/>
<rect x="466.25" y="56.26" width="2.30" height="2.30" fill="#1358b0"/>
<rect x="471.38" y="51.59" width="2.30" height="2.30" fill="#1358b0"/>
<rect x="476.52" y="49.53" width="2.30" height="2.30" fill="#1358b0"/>
<rect x="481.65" y="57.95" width="2.30" height="2.30" fill="#1358b0"/>
<rect x="486.78" y="51.40" width="2.30" height="2.30" fill="#1358b0"/>
<rect x="491.92" y="47.98" width="2.30" height="2.30" fill="#1358b0"/>
<rect x="497.05" y="32.90" width="2.30" height="2.30" fill="#1358b0"/>
<rect x="502.18" y="51.90" width="2.30" height="2.30" fill="#1358b0"/>
<rect x="507.32" y="45.98" width="2.30" height="2.30" fill="#1358b0"/>
<rect x="512.45" y="60.44" width="2.30" height="2.30" fill="#1358b0"/>
<rect x="517.58" y="51.72" width="2.30" height="2.30" fill="#1358b0"/>
<rect x="522.72" y="51.72" width="2.30" height="2.30" fill="#1358b0"/>
<rect x="527.85" y="39.44" width="2.30" height="2.30" fill="#1358b0"/>
<path d="M395.53 79.94L396.93 82.46L394.13 82.46Z" fill="#b8102a"/>
<path d="M400.67 84.93L402.07 87.45L399.27 87.45Z" fill="#b8102a"/>
<path d="M405.80 73.65L407.20 76.17L404.40 76.17Z" fill="#b8102a"/>
<path d="M410.93 77.57L412.33 80.09L409.53 80.09Z" fill="#b8102a"/>
<path d="M416.07 76.64L417.47 79.16L414.67 79.16Z" fill="#b8102a"/>
<path d="M421.20 74.77L422.60 77.29L419.80 77.29Z" fill="#b8102a"/>
<path d="M426.33 79.44L427.73 81.96L424.93 81.96Z" fill="#b8102a"/>
<path d="M431.47 60.44L432.87 62.96L430.07 62.96Z" fill="#b8102a"/>
<path d="M436.60 53.71L438.00 56.23L435.20 56.23Z" fill="#b8102a"/>
<path d="M441.73 57.32L443.13 59.84L440.33 59.84Z" fill="#b8102a"/>
<path d="M446.87 73.84L448.27 76.36L445.47 76.36Z" fill="#b8102a"/>
<path d="M452.00 74.46L453.40 76.98L450.60 76.98Z" fill="#b8102a"/>
<path d="M457.13 76.02L458.53 78.54L455.73 78.54Z" fill="#b8102a"/>
<path d="M462.27 74.77L463.67 77.29L460.87 77.29Z" fill="#b8102a"/>
<path d="M467.40 72.34L468.80 74.86L466.00 74.86Z" fill="#b8102a"/>
<path d="M472.53 76.70L473.93 79.22L471.13 79.22Z" fill="#b8102a"/>
<path d="M477.67 71.41L479.07 73.93L476.27 73.93Z" fill="#b8102a"/>
<path d="M482.80 71.72L484.20 74.24L481.40 74.24Z" fill="#b8102a"/>
<path d="M487.93 75.33L489.33 77.85L486.53 77.85Z" fill="#b8102a"/>
<path d="M493.07 78.38L494.47 80.90L491.67 80.90Z" fill="#b8102a"/>
<path d="M498.20 70.35L499.60 72.87L496.80 72.87Z" fill="#b8102a"/>
<path d="M503.33 61.31L504.73 63.83L501.93 63.83Z" fill="#b8102a"/>
<path d="M508.47 60.19L509.87 62.71L507.07 62.71Z" fill="#b8102a"/>
<path d="M513.60 77.76L515.00 80.28L512.20 80.28Z" fill="#b8102a"/>
<path d="M518.73 111.78L520.13 114.30L517.33 114.30Z" fill="#b8102a"/>
<path d="M523.87 86.36L525.27 88.88L522.47 88.88Z" fill="#b8102a"/>
<path d="M529.00 82.44L530.40 84.96L527.60 84.96Z" fill="#b8102a"/>
<rect x="33.22" y="147.46" width="2.30" height="2.30" fill="#1358b0"/>
<rect x="38.29" y="150.54" width="2.30" height="2.30" fill="#1358b0"/>
<rect x="43.36" y="150.90" width="2.30" height="2.30" fill="#1358b0"/>
<rect x="48.43" y="147.22" width="2.30" height="2.30" fill="#1358b0"/>
<rect x="53.50" y="147.46" width="2.30" height="2.30" fill="#1358b0"/>
<rect x="58.57" y="148.68" width="2.30" height="2.30" fill="#1358b0"/>
<rect x="63.64" y="147.82" width="2.30" height="2.30" fill="#1358b0"/>
<rect x="68.71" y="146.84" width="2.30" height="2.30" fill="#1358b0"/>
<rect x="73.78" y="146.60" width="2.30" height="2.30" fill="#1358b0"/>
<rect x="78.85" y="150.54" width="2.30" height="2.30" fill="#1358b0"/>
<rect x="83.92" y="149.30" width="2.30" height="2.30" fill="#1358b0"/>
<rect x="88.99" y="147.10" width="2.30" height="2.30" fill="#1358b0"/>
<rect x="94.06" y="148.08" width="2.30" height="2.30" fill="#1358b0"/>
<rect x="99.13" y="148.08" width="2.30" height="2.30" fill="#1358b0"/>
<rect x="104.20" y="147.82" width="2.30" height="2.30" fill="#1358b0"/>
<rect x="109.27" y="149.30" width="2.30" height="2.30" fill="#1358b0"/>
<rect x="114.34" y="146.48" width="2.30" height="2.30" fill="#1358b0"/>
<rect x="119.41" y="146.24" width="2.30" height="2.30" fill="#1358b0"/>
<rect x="124.48" y="146.84" width="2.30" height="2.30" fill="#1358b0"/>
<rect x="129.55" y="146.84" width="2.30" height="2.30" fill="#1358b0"/>
<rect x="134.62" y="143.78" width="2.30" height="2.30" fill="#1358b0"/>
<rect x="139.69" y="144.14" width="2.30" height="2.30" fill="#1358b0"/>
<rect x="144.76" y="147.46" width="2.30" height="2.30" fill="#1358b0"/>
<rect x="149.83" y="145.62" width="2.30" height="2.30" fill="#1358b0"/>
<rect x="154.90" y="151.76" width="2.30" height="2.30" fill="#1358b0"/>
<rect x="159.97" y="145.26" width="2.30" height="2.30" fill="#1358b0"/>
<rect x="165.04" y="147.82" width="2.30" height="2.30" fill="#1358b0"/>
<path d="M34.37 152.13L35.77 154.65L32.97 154.65Z" fill="#b8102a"/>
<path d="M39.44 150.89L40.84 153.41L38.04 153.41Z" fill="#b8102a"/>
<path d="M44.51 155.20L45.91 157.72L43.11 157.72Z" fill="#b8102a"/>
<path d="M49.58 153.98L50.98 156.50L48.18 156.50Z" fill="#b8102a"/>
<path d="M54.65 151.75L56.05 154.27L53.25 154.27Z" fill="#b8102a"/>
<path d="M59.72 153.12L61.12 155.64L58.32 155.64Z" fill="#b8102a"/>
<path d="M64.79 155.20L66.19 157.72L63.39 157.72Z" fill="#b8102a"/>
<path d="M69.86 165.03L71.26 167.55L68.46 167.55Z" fill="#b8102a"/>
<path d="M74.93 165.03L76.33 167.55L73.53 167.55Z" fill="#b8102a"/>
<path d="M80.00 161.82L81.40 164.34L78.60 164.34Z" fill="#b8102a"/>
<path d="M85.07 154.58L86.47 157.10L83.67 157.10Z" fill="#b8102a"/>
<path d="M90.14 150.57L91.54 153.09L88.74 153.09Z" fill="#b8102a"/>
<path d="M95.21 150.03L96.61 152.55L93.81 152.55Z" fill="#b8102a"/>
<path d="M100.28 152.74L101.68 155.26L98.88 155.26Z" fill="#b8102a"/>
<path d="M105.35 150.65L106.75 153.17L103.95 153.17Z" fill="#b8102a"/>
<path d="M110.42 151.75L111.82 154.27L109.02 154.27Z" fill="#b8102a"/>
<path d="M115.49 156.42L116.89 158.94L114.09 158.94Z" fill="#b8102a"/>
<path d="M120.56 149.05L121.96 151.57L119.16 151.57Z" fill="#b8102a"/>
<path d="M125.63 149.91L127.03 152.43L124.23 152.43Z" fill="#b8102a"/>
<path d="M130.70 152.49L132.10 155.01L129.30 155.01Z" fill="#b8102a"/>
<path d="M135.77 231.29L137.17 233.81L134.37 233.81Z" fill="#b8102a"/>
<path d="M140.84 182.04L142.24 184.56L139.44 184.56Z" fill="#b8102a"/>
<path d="M145.91 198.86L147.31 201.38L144.51 201.38Z" fill="#b8102a"/>
<path d="M150.98 152.49L152.38 155.01L149.58 155.01Z" fill="#b8102a"/>
<path d="M156.05 179.04L157.45 181.56L154.65 181.56Z" fill="#b8102a"/>
<path d="M161.12 160.50L162.52 163.02L159.72 163.02Z" fill="#b8102a"/>
<path d="M166.19 187.25L167.59 189.77L164.79 189.77Z" fill="#b8102a"/>
<rect x="214.90" y="232.52" width="2.30" height="2.30" fill="#1358b0"/>
<rect x="219.96" y="232.52" width="2.30" height="2.30" fill="#1358b0"/>
<rect x="225.01" y="230.40" width="2.30" height="2.30" fill="#1358b0"/>
<rect x="230.06" y="232.75" width="2.30" height="2.30" fill="#1358b0"/>
<rect x="235.12" y="232.52" width="2.30" height="2.30" fill="#1358b0"/>
<rect x="240.17" y="231.03" width="2.30" height="2.30" fill="#1358b0"/>
<rect x="245.22" y="230.69" width="2.30" height="2.30" fill="#1358b0"/>
<rect x="250.28" y="234.53" width="2.30" height="2.30" fill="#1358b0"/>
<rect x="255.33" y="234.53" width="2.30" height="2.30" fill="#1358b0"/>
<rect x="260.38" y="231.55" width="2.30" height="2.30" fill="#1358b0"/>
<rect x="265.44" y="229.65" width="2.30" height="2.30" fill="#1358b0"/>
<rect x="270.49" y="227.82" width="2.30" height="2.30" fill="#1358b0"/>
<rect x="275.54" y="219.78" width="2.30" height="2.30" fill="#1358b0"/>
<rect x="280.60" y="229.14" width="2.30" height="2.30" fill="#1358b0"/>
<rect x="285.65" y="229.60" width="2.30" height="2.30" fill="#1358b0"/>
<rect x="290.70" y="220.53" width="2.30" height="2.30" fill="#1358b0"/>
<rect x="295.76" y="218.63" width="2.30" height="2.30" fill="#1358b0"/>
<rect x="300.81" y="231.78" width="2.30" height="2.30" fill="#1358b0"/>
<rect x="305.86" y="230.40" width="2.30" height="2.30" fill="#1358b0"/>
<rect x="310.92" y="229.43" width="2.30" height="2.30" fill="#1358b0"/>
<rect x="315.97" y="211.92" width="2.30" height="2.30" fill="#1358b0"/>
<rect x="321.02" y="233.84" width="2.30" height="2.30" fill="#1358b0"/>
<rect x="326.08" y="234.13" width="2.30" height="2.30" fill="#1358b0"/>
<rect x="331.13" y="233.84" width="2.30" height="2.30" fill="#1358b0"/>
<rect x="336.18" y="229.14" width="2.30" height="2.30" fill="#1358b0"/>
<rect x="341.24" y="229.43" width="2.30" height="2.30" fill="#1358b0"/>
<rect x="346.29" y="228.68" width="2.30" height="2.30" fill="#1358b0"/>
<path d="M216.05 226.42L217.45 228.94L214.65 228.94Z" fill="#b8102a"/>
<path d="M221.11 226.13L222.51 228.65L219.71 228.65Z" fill="#b8102a"/>
<path d="M226.16 226.42L227.56 228.94L224.76 228.94Z" fill="#b8102a"/>
<path d="M231.21 227.57L232.61 230.09L229.81 230.09Z" fill="#b8102a"/>
<path d="M236.27 227.91L237.67 230.43L234.87 230.43Z" fill="#b8102a"/>
<path d="M241.32 227.28L242.72 229.80L239.92 229.80Z" fill="#b8102a"/>
<path d="M246.37 222.52L247.77 225.04L244.97 225.04Z" fill="#b8102a"/>
<path d="M251.43 233.14L252.83 235.66L250.03 235.66Z" fill="#b8102a"/>
<path d="M256.48 234.63L257.88 237.15L255.08 237.15Z" fill="#b8102a"/>
<path d="M261.53 233.54L262.93 236.06L260.13 236.06Z" fill="#b8102a"/>
<path d="M266.59 223.55L267.99 226.07L265.19 226.07Z" fill="#b8102a"/>
<path d="M271.64 221.66L273.04 224.18L270.24 224.18Z" fill="#b8102a"/>
<path d="M276.69 206.22L278.09 208.74L275.29 208.74Z" fill="#b8102a"/>
<path d="M281.75 224.53L283.15 227.05L280.35 227.05Z" fill="#b8102a"/>
<path d="M286.80 226.99L288.20 229.51L285.40 229.51Z" fill="#b8102a"/>
<path d="M291.85 203.40L293.25 205.92L290.45 205.92Z" fill="#b8102a"/>
<path d="M296.91 197.61L298.31 200.13L295.51 200.13Z" fill="#b8102a"/>
<path d="M301.96 228.89L303.36 231.41L300.56 231.41Z" fill="#b8102a"/>
<path d="M307.01 221.83L308.41 224.35L305.61 224.35Z" fill="#b8102a"/>
<path d="M312.07 210.12L313.47 212.64L310.67 212.64Z" fill="#b8102a"/>
<path d="M317.12 148.91L318.52 151.43L315.72 151.43Z" fill="#b8102a"/>
<path d="M322.17 226.53L323.57 229.05L320.77 229.05Z" fill="#b8102a"/>
<path d="M327.23 222.34L328.63 224.86L325.83 224.86Z" fill="#b8102a"/>
<path d="M332.28 229.63L333.68 232.15L330.88 232.15Z" fill="#b8102a"/>
<path d="M337.33 167.81L338.73 170.33L335.93 170.33Z" fill="#b8102a"/>
<path d="M342.39 210.46L343.79 212.98L340.99 212.98Z" fill="#b8102a"/>
<path d="M347.44 172.00L348.84 174.52L346.04 174.52Z" fill="#b8102a"/>
<rect x="392.93" y="181.01" width="2.30" height="2.30" fill="#1358b0"/>
<rect x="398.00" y="173.98" width="2.30" height="2.30" fill="#1358b0"/>
<rect x="403.08" y="178.51" width="2.30" height="2.30" fill="#1358b0"/>
<rect x="408.16" y="180.07" width="2.30" height="2.30" fill="#1358b0"/>
<rect x="413.23" y="180.07" width="2.30" height="2.30" fill="#1358b0"/>
<rect x="418.31" y="181.79" width="2.30" height="2.30" fill="#1358b0"/>
<rect x="423.39" y="185.23" width="2.30" height="2.30" fill="#1358b0"/>
<rect x="428.46" y="163.81" width="2.30" height="2.30" fill="#1358b0"/>
<rect x="433.54" y="165.69" width="2.30" height="2.30" fill="#1358b0"/>
<rect x="438.62" y="172.72" width="2.30" height="2.30" fill="#1358b0"/>
<rect x="443.69" y="185.23" width="2.30" height="2.30" fill="#1358b0"/>
<rect x="448.77" y="187.89" width="2.30" height="2.30" fill="#1358b0"/>
<rect x="453.85" y="187.89" width="2.30" height="2.30" fill="#1358b0"/>
<rect x="458.92" y="185.23" width="2.30" height="2.30" fill="#1358b0"/>
<rect x="464.00" y="184.45" width="2.30" height="2.30" fill="#1358b0"/>
<rect x="469.08" y="185.54" width="2.30" height="2.30" fill="#1358b0"/>
<rect x="474.15" y="187.11" width="2.30" height="2.30" fill="#1358b0"/>
<rect x="479.23" y="184.45" width="2.30" height="2.30" fill="#1358b0"/>
<rect x="484.31" y="184.45" width="2.30" height="2.30" fill="#1358b0"/>
<rect x="489.38" y="184.92" width="2.30" height="2.30" fill="#1358b0"/>
<rect x="494.46" y="184.45" width="2.30" height="2.30" fill="#1358b0"/>
<rect x="499.54" y="181.79" width="2.30" height="2.30" fill="#1358b0"/>
<rect x="504.61" y="177.10" width="2.30" height="2.30" fill="#1358b0"/>
<rect x="509.69" y="175.85" width="2.30" height="2.30" fill="#1358b0"/>
<rect x="514.77" y="183.67" width="2.30" height="2.30" fill="#1358b0"/>
<rect x="519.84" y="186.01" width="2.30" height="2.30" fill="#1358b0"/>
<rect x="524.92" y="183.67" width="2.30" height="2.30" fill="#1358b0"/>
<path d="M394.08 207.18L395.48 209.70L392.68 209.70Z" fill="#b8102a"/>
<path d="M399.15 213.12L400.55 215.64L397.75 215.64Z" fill="#b8102a"/>
<path d="M404.23 200.61L405.63 203.13L402.83 203.13Z" fill="#b8102a"/>
<path d="M409.31 204.30L410.71 206.82L407.91 206.82Z" fill="#b8102a"/>
<path d="M414.38 203.52L415.78 206.04L412.98 206.04Z" fill="#b8102a"/>
<path d="M419.46 201.31L420.86 203.83L418.06 203.83Z" fill="#b8102a"/>
<path d="M424.54 206.40L425.94 208.92L423.14 208.92Z" fill="#b8102a"/>
<path d="M429.61 162.31L431.01 164.83L428.21 164.83Z" fill="#b8102a"/>
<path d="M434.69 149.99L436.09 152.51L433.29 152.51Z" fill="#b8102a"/>
<path d="M439.77 170.35L441.17 172.87L438.37 172.87Z" fill="#b8102a"/>
<path d="M444.84 199.83L446.24 202.35L443.44 202.35Z" fill="#b8102a"/>
<path d="M449.92 201.71L451.32 204.23L448.52 204.23Z" fill="#b8102a"/>
<path d="M455.00 203.50L456.40 206.02L453.60 206.02Z" fill="#b8102a"/>
<path d="M460.07 201.71L461.47 204.23L458.67 204.23Z" fill="#b8102a"/>
<path d="M465.15 199.74L466.55 202.26L463.75 202.26Z" fill="#b8102a"/>
<path d="M470.23 203.74L471.63 206.26L468.83 206.26Z" fill="#b8102a"/>
<path d="M475.30 200.61L476.70 203.13L473.90 203.13Z" fill="#b8102a"/>
<path d="M480.38 198.40L481.78 200.92L478.98 200.92Z" fill="#b8102a"/>
<path d="M485.46 202.49L486.86 205.01L484.06 205.01Z" fill="#b8102a"/>
<path d="M490.53 205.15L491.93 207.67L489.13 207.67Z" fill="#b8102a"/>
<path d="M495.61 201.31L497.01 203.83L494.21 203.83Z" fill="#b8102a"/>
<path d="M500.69 189.98L502.09 192.50L499.29 192.50Z" fill="#b8102a"/>
<path d="M505.76 189.20L507.16 191.72L504.36 191.72Z" fill="#b8102a"/>
<path d="M510.84 204.43L512.24 206.95L509.44 206.95Z" fill="#b8102a"/>
<path d="M515.92 232.48L517.32 235.00L514.52 235.00Z" fill="#b8102a"/>
<path d="M520.99 210.78L522.39 213.30L519.59 213.30Z" fill="#b8102a"/>
<path d="M526.07 207.18L527.47 209.70L524.67 209.70Z" fill="#b8102a"/>
<path d="M39.30 84.15L40.45 85.30L39.30 86.45L38.15 85.30Z" fill="#000000"/>
<text transform="translate(41.60 86.97) scale(0.1)" font-size="50.5" text-anchor="start" font-weight="bold" fill="#000">Observed</text>
<rect x="38.15" y="94.05" width="2.30" height="2.30" fill="#1358b0"/>
<text transform="translate(41.60 96.87) scale(0.1)" font-size="50.5" text-anchor="start" font-weight="bold" fill="#000">Present model</text>
<path d="M39.30 103.91L40.49 106.05L38.11 106.05Z" fill="#b8102a"/>
<text transform="translate(41.60 106.77) scale(0.1)" font-size="50.5" text-anchor="start" font-weight="bold" fill="#000">Sheng and Azevedo (2002)</text>
<circle cx="218.70" cy="23.90" r="1.06" fill="#000000"/>
<text transform="translate(221.00 25.57) scale(0.1)" font-size="50.5" text-anchor="start" font-weight="bold" fill="#000">Observed</text>
<circle cx="218.70" cy="33.55" r="1.06" fill="#1358b0"/>
<text transform="translate(221.00 35.22) scale(0.1)" font-size="50.5" text-anchor="start" font-weight="bold" fill="#000">Present model</text>
<circle cx="218.70" cy="43.20" r="1.06" fill="#d8000f"/>
<text transform="translate(221.00 44.87) scale(0.1)" font-size="50.5" text-anchor="start" font-weight="bold" fill="#000">Sheng and Azevedo (2002)</text>
<path d="M395.60 20.95L396.75 22.10L395.60 23.25L394.45 22.10Z" fill="#000000"/>
<text transform="translate(397.90 23.77) scale(0.1)" font-size="50.5" text-anchor="start" font-weight="bold" fill="#000">Observed</text>
<rect x="394.45" y="30.65" width="2.30" height="2.30" fill="#1358b0"/>
<text transform="translate(397.90 33.47) scale(0.1)" font-size="50.5" text-anchor="start" font-weight="bold" fill="#000">Present model</text>
<path d="M395.60 40.31L396.79 42.45L394.41 42.45Z" fill="#b8102a"/>
<text transform="translate(397.90 43.17) scale(0.1)" font-size="50.5" text-anchor="start" font-weight="bold" fill="#000">Sheng and Azevedo (2002)</text>
<rect x="37.15" y="216.25" width="2.30" height="2.30" fill="#1358b0"/>
<text transform="translate(40.60 219.07) scale(0.1)" font-size="50.5" text-anchor="start" font-weight="bold" fill="#000">Present model</text>
<path d="M38.30 225.31L39.49 227.45L37.11 227.45Z" fill="#b8102a"/>
<text transform="translate(40.60 228.17) scale(0.1)" font-size="50.5" text-anchor="start" font-weight="bold" fill="#000">Sheng and Azevedo (2002)</text>
<rect x="215.95" y="143.05" width="2.30" height="2.30" fill="#1358b0"/>
<text transform="translate(219.40 145.87) scale(0.1)" font-size="50.5" text-anchor="start" font-weight="bold" fill="#000">Present model</text>
<path d="M217.10 149.91L218.29 152.05L215.91 152.05Z" fill="#b8102a"/>
<text transform="translate(219.40 152.77) scale(0.1)" font-size="50.5" text-anchor="start" font-weight="bold" fill="#000">Sheng and Azevedo (2002)</text>
<rect x="395.45" y="223.75" width="2.30" height="2.30" fill="#1358b0"/>
<text transform="translate(398.90 226.57) scale(0.1)" font-size="50.5" text-anchor="start" font-weight="bold" fill="#000">Present model</text>
<path d="M396.60 231.21L397.79 233.35L395.41 233.35Z" fill="#b8102a"/>
<text transform="translate(398.90 234.07) scale(0.1)" font-size="50.5" text-anchor="start" font-weight="bold" fill="#000">Sheng and Azevedo (2002)</text>
</svg>
</body></html>
